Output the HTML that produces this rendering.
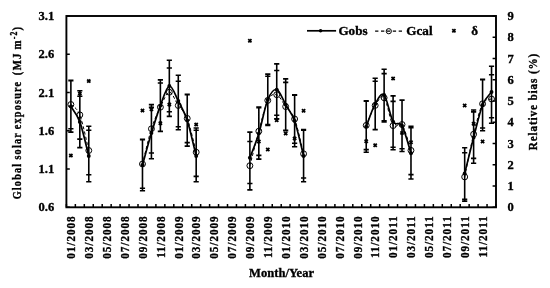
<!DOCTYPE html><html><head><meta charset="utf-8"><title>Chart</title><style>html,body{margin:0;padding:0;background:#fff;}svg{display:block;}text{font-family:'Liberation Serif','Times New Roman',serif;font-weight:bold;fill:#000;stroke:#000;stroke-width:0.35px;}</style></head><body>
<svg width="550" height="288" viewBox="0 0 550 288">
<rect width="550" height="288" fill="#fff"/>
<rect x="66.4" y="16.0" width="429.60" height="191.30" fill="none" stroke="#000" stroke-width="1.9"/>
<path d="M66.40 207.30H69.80M66.40 169.04H69.80M66.40 130.78H69.80M66.40 92.52H69.80M66.40 54.26H69.80M66.40 16.00H69.80M496.00 207.30H492.60M496.00 186.04H492.60M496.00 164.79H492.60M496.00 143.53H492.60M496.00 122.28H492.60M496.00 101.02H492.60M496.00 79.77H492.60M496.00 58.51H492.60M496.00 37.26H492.60M496.00 16.00H492.60M66.40 207.30V204.00M75.35 207.30V204.00M84.30 207.30V204.00M93.25 207.30V204.00M102.20 207.30V204.00M111.15 207.30V204.00M120.10 207.30V204.00M129.05 207.30V204.00M138.00 207.30V204.00M146.95 207.30V204.00M155.90 207.30V204.00M164.85 207.30V204.00M173.80 207.30V204.00M182.75 207.30V204.00M191.70 207.30V204.00M200.65 207.30V204.00M209.60 207.30V204.00M218.55 207.30V204.00M227.50 207.30V204.00M236.45 207.30V204.00M245.40 207.30V204.00M254.35 207.30V204.00M263.30 207.30V204.00M272.25 207.30V204.00M281.20 207.30V204.00M290.15 207.30V204.00M299.10 207.30V204.00M308.05 207.30V204.00M317.00 207.30V204.00M325.95 207.30V204.00M334.90 207.30V204.00M343.85 207.30V204.00M352.80 207.30V204.00M361.75 207.30V204.00M370.70 207.30V204.00M379.65 207.30V204.00M388.60 207.30V204.00M397.55 207.30V204.00M406.50 207.30V204.00M415.45 207.30V204.00M424.40 207.30V204.00M433.35 207.30V204.00M442.30 207.30V204.00M451.25 207.30V204.00M460.20 207.30V204.00M469.15 207.30V204.00M478.10 207.30V204.00M487.05 207.30V204.00M496.00 207.30V204.00" stroke="#000" stroke-width="1.5" fill="none"/>
<text transform="translate(54.20,211.30) scale(0.95,1)" font-size="13.2" text-anchor="end">0.6</text>
<text transform="translate(54.20,173.04) scale(0.95,1)" font-size="13.2" text-anchor="end">1.1</text>
<text transform="translate(54.20,134.78) scale(0.95,1)" font-size="13.2" text-anchor="end">1.6</text>
<text transform="translate(54.20,96.52) scale(0.95,1)" font-size="13.2" text-anchor="end">2.1</text>
<text transform="translate(54.20,58.26) scale(0.95,1)" font-size="13.2" text-anchor="end">2.6</text>
<text transform="translate(54.20,20.00) scale(0.95,1)" font-size="13.2" text-anchor="end">3.1</text>
<text transform="translate(507.60,211.30) scale(0.95,1)" font-size="13.2">0</text>
<text transform="translate(507.60,190.04) scale(0.95,1)" font-size="13.2">1</text>
<text transform="translate(507.60,168.79) scale(0.95,1)" font-size="13.2">2</text>
<text transform="translate(507.60,147.53) scale(0.95,1)" font-size="13.2">3</text>
<text transform="translate(507.60,126.28) scale(0.95,1)" font-size="13.2">4</text>
<text transform="translate(507.60,105.02) scale(0.95,1)" font-size="13.2">5</text>
<text transform="translate(507.60,83.77) scale(0.95,1)" font-size="13.2">6</text>
<text transform="translate(507.60,62.51) scale(0.95,1)" font-size="13.2">7</text>
<text transform="translate(507.60,41.26) scale(0.95,1)" font-size="13.2">8</text>
<text transform="translate(507.60,20.00) scale(0.95,1)" font-size="13.2">9</text>
<text transform="translate(75.17,215.50) rotate(-90) scale(0.86,1)" font-size="13.0" letter-spacing="1.1" text-anchor="end">01/2008</text>
<text transform="translate(93.08,215.50) rotate(-90) scale(0.86,1)" font-size="13.0" letter-spacing="1.1" text-anchor="end">03/2008</text>
<text transform="translate(110.98,215.50) rotate(-90) scale(0.86,1)" font-size="13.0" letter-spacing="1.1" text-anchor="end">05/2008</text>
<text transform="translate(128.88,215.50) rotate(-90) scale(0.86,1)" font-size="13.0" letter-spacing="1.1" text-anchor="end">07/2008</text>
<text transform="translate(146.78,215.50) rotate(-90) scale(0.86,1)" font-size="13.0" letter-spacing="1.1" text-anchor="end">09/2008</text>
<text transform="translate(164.68,215.50) rotate(-90) scale(0.86,1)" font-size="13.0" letter-spacing="1.1" text-anchor="end">11/2008</text>
<text transform="translate(182.58,215.50) rotate(-90) scale(0.86,1)" font-size="13.0" letter-spacing="1.1" text-anchor="end">01/2009</text>
<text transform="translate(200.48,215.50) rotate(-90) scale(0.86,1)" font-size="13.0" letter-spacing="1.1" text-anchor="end">03/2009</text>
<text transform="translate(218.38,215.50) rotate(-90) scale(0.86,1)" font-size="13.0" letter-spacing="1.1" text-anchor="end">05/2009</text>
<text transform="translate(236.28,215.50) rotate(-90) scale(0.86,1)" font-size="13.0" letter-spacing="1.1" text-anchor="end">07/2009</text>
<text transform="translate(254.18,215.50) rotate(-90) scale(0.86,1)" font-size="13.0" letter-spacing="1.1" text-anchor="end">09/2009</text>
<text transform="translate(272.08,215.50) rotate(-90) scale(0.86,1)" font-size="13.0" letter-spacing="1.1" text-anchor="end">11/2009</text>
<text transform="translate(289.98,215.50) rotate(-90) scale(0.86,1)" font-size="13.0" letter-spacing="1.1" text-anchor="end">01/2010</text>
<text transform="translate(307.88,215.50) rotate(-90) scale(0.86,1)" font-size="13.0" letter-spacing="1.1" text-anchor="end">03/2010</text>
<text transform="translate(325.78,215.50) rotate(-90) scale(0.86,1)" font-size="13.0" letter-spacing="1.1" text-anchor="end">05/2010</text>
<text transform="translate(343.68,215.50) rotate(-90) scale(0.86,1)" font-size="13.0" letter-spacing="1.1" text-anchor="end">07/2010</text>
<text transform="translate(361.58,215.50) rotate(-90) scale(0.86,1)" font-size="13.0" letter-spacing="1.1" text-anchor="end">09/2010</text>
<text transform="translate(379.48,215.50) rotate(-90) scale(0.86,1)" font-size="13.0" letter-spacing="1.1" text-anchor="end">11/2010</text>
<text transform="translate(397.38,215.50) rotate(-90) scale(0.86,1)" font-size="13.0" letter-spacing="1.1" text-anchor="end">01/2011</text>
<text transform="translate(415.28,215.50) rotate(-90) scale(0.86,1)" font-size="13.0" letter-spacing="1.1" text-anchor="end">03/2011</text>
<text transform="translate(433.18,215.50) rotate(-90) scale(0.86,1)" font-size="13.0" letter-spacing="1.1" text-anchor="end">05/2011</text>
<text transform="translate(451.08,215.50) rotate(-90) scale(0.86,1)" font-size="13.0" letter-spacing="1.1" text-anchor="end">07/2011</text>
<text transform="translate(468.98,215.50) rotate(-90) scale(0.86,1)" font-size="13.0" letter-spacing="1.1" text-anchor="end">09/2011</text>
<text transform="translate(486.88,215.50) rotate(-90) scale(0.86,1)" font-size="13.0" letter-spacing="1.1" text-anchor="end">11/2011</text>
<text transform="translate(21.0,199.3) rotate(-90) scale(0.76,1)" font-size="13.4" letter-spacing="1.6" word-spacing="-1.0">Global solar exposure</text>
<text transform="translate(21.0,75.2) rotate(-90) scale(0.8,1)" font-size="13.4" letter-spacing="1.6" word-spacing="-1.5">(MJ m<tspan font-size="9.65" dy="-4.4">-2</tspan><tspan dy="4.4">)</tspan></text>
<text transform="translate(537.20,150.20) rotate(-90) scale(0.84,1)" font-size="13.4" letter-spacing="1.0">Relative bias (%)</text>
<text transform="translate(249.00,276.80) scale(0.94,1)" font-size="13.4">Month/Year</text>
<path d="M70.88 80.70V132.10M68.28 80.70H73.47M68.28 132.10H73.47M70.88 80.30V128.70M68.28 80.30H73.47M68.28 128.70H73.47M79.83 96.20V147.60M77.23 96.20H82.42M77.23 147.60H82.42M79.83 90.70V139.10M77.23 90.70H82.42M77.23 139.10H82.42M88.78 130.30V181.70M86.18 130.30H91.38M86.18 181.70H91.38M88.78 126.30V174.70M86.18 126.30H91.38M86.18 174.70H91.38M142.48 139.30V190.70M139.88 139.30H145.08M139.88 190.70H145.08M142.48 139.80V188.20M139.88 139.80H145.08M139.88 188.20H145.08M151.43 107.40V158.80M148.83 107.40H154.03M148.83 158.80H154.03M151.43 104.60V153.00M148.83 104.60H154.03M148.83 153.00H154.03M160.38 79.90V131.30M157.78 79.90H162.97M157.78 131.30H162.97M160.38 83.00V131.40M157.78 83.00H162.97M157.78 131.40H162.97M169.33 60.30V111.70M166.73 60.30H171.93M166.73 111.70H171.93M169.33 68.00V116.40M166.73 68.00H171.93M166.73 116.40H171.93M178.28 75.30V126.70M175.68 75.30H180.88M175.68 126.70H180.88M178.28 81.30V129.70M175.68 81.30H180.88M175.68 129.70H180.88M187.23 94.70V146.10M184.63 94.70H189.83M184.63 146.10H189.83M187.23 94.20V142.60M184.63 94.20H189.83M184.63 142.60H189.83M196.18 130.30V181.70M193.58 130.30H198.78M193.58 181.70H198.78M196.18 128.00V176.40M193.58 128.00H198.78M193.58 176.40H198.78M249.88 132.10V183.50M247.28 132.10H252.48M247.28 183.50H252.48M249.88 141.50V189.90M247.28 141.50H252.48M247.28 189.90H252.48M258.83 107.70V159.10M256.23 107.70H261.43M256.23 159.10H261.43M258.83 107.00V155.40M256.23 107.00H261.43M256.23 155.40H261.43M267.78 74.10V125.50M265.18 74.10H270.38M265.18 125.50H270.38M267.78 76.20V124.60M265.18 76.20H270.38M265.18 124.60H270.38M276.73 63.90V115.30M274.12 63.90H279.33M274.12 115.30H279.33M276.73 70.50V118.90M274.12 70.50H279.33M274.12 118.90H279.33M285.68 78.90V130.30M283.08 78.90H288.28M283.08 130.30H288.28M285.68 82.40V130.80M283.08 82.40H288.28M283.08 130.80H288.28M294.62 95.30V146.70M292.02 95.30H297.23M292.02 146.70H297.23M294.62 94.80V143.20M292.02 94.80H297.23M292.02 143.20H297.23M303.58 130.30V181.70M300.98 130.30H306.18M300.98 181.70H306.18M303.58 129.60V178.00M300.98 129.60H306.18M300.98 178.00H306.18M366.23 100.90V152.30M363.62 100.90H368.83M363.62 152.30H368.83M366.23 101.20V149.60M363.62 101.20H368.83M363.62 149.60H368.83M375.18 78.20V129.60M372.58 78.20H377.78M372.58 129.60H377.78M375.18 81.20V129.60M372.58 81.20H377.78M372.58 129.60H377.78M384.12 69.30V120.70M381.52 69.30H386.73M381.52 120.70H386.73M384.12 73.60V122.00M381.52 73.60H386.73M381.52 122.00H386.73M393.08 95.90V147.30M390.48 95.90H395.68M390.48 147.30H395.68M393.08 101.40V149.80M390.48 101.40H395.68M390.48 149.80H395.68M402.03 100.10V151.50M399.43 100.10H404.63M399.43 151.50H404.63M402.03 100.30V148.70M399.43 100.30H404.63M399.43 148.70H404.63M410.98 127.60V179.00M408.38 127.60H413.58M408.38 179.00H413.58M410.98 126.20V174.60M408.38 126.20H413.58M408.38 174.60H413.58M464.68 147.80V199.20M462.08 147.80H467.28M462.08 199.20H467.28M464.68 152.70V201.10M462.08 152.70H467.28M462.08 201.10H467.28M473.62 111.90V163.30M471.02 111.90H476.23M471.02 163.30H476.23M473.62 110.00V158.40M471.02 110.00H476.23M471.02 158.40H476.23M482.58 79.30V130.70M479.98 79.30H485.18M479.98 130.70H485.18M482.58 79.60V128.00M479.98 79.60H485.18M479.98 128.00H485.18M491.53 66.30V117.70M488.93 66.30H494.13M488.93 117.70H494.13M491.53 74.80V123.20M488.93 74.80H494.13M488.93 123.20H494.13" stroke="#000" stroke-width="1.6" fill="none"/>
<path d="M70.88 104.50C72.37 106.23 76.84 107.23 79.83 114.90C82.81 122.57 87.28 144.57 88.78 150.50" fill="none" stroke="#000" stroke-width="1" stroke-dasharray="3 2.2"/>
<path d="M70.88 106.40C72.37 108.98 76.84 113.63 79.83 121.90C82.81 130.17 87.28 150.32 88.78 156.00" fill="none" stroke="#000" stroke-width="1.7" stroke-linejoin="round"/>
<path d="M142.48 164.00C143.97 158.13 148.44 138.27 151.43 128.80C154.41 119.33 157.39 113.30 160.38 107.20C163.36 101.10 166.34 92.48 169.33 92.20C172.31 91.92 175.29 101.13 178.28 105.50C181.26 109.87 184.24 110.62 187.23 118.40C190.21 126.18 194.68 146.57 196.18 152.20" fill="none" stroke="#000" stroke-width="1" stroke-dasharray="3 2.2"/>
<path d="M142.48 165.00C143.97 159.68 148.44 143.00 151.43 133.10C154.41 123.20 157.39 113.45 160.38 105.60C163.36 97.75 166.34 86.77 169.33 86.00C172.31 85.23 175.29 95.27 178.28 101.00C181.26 106.73 184.24 111.23 187.23 120.40C190.21 129.57 194.68 150.07 196.18 156.00" fill="none" stroke="#000" stroke-width="1.7" stroke-linejoin="round"/>
<path d="M249.88 165.70C251.37 159.95 255.84 142.08 258.83 131.20C261.81 120.32 264.79 106.48 267.78 100.40C270.76 94.32 273.74 93.67 276.73 94.70C279.71 95.73 282.69 102.55 285.68 106.60C288.66 110.65 291.64 111.13 294.62 119.00C297.61 126.87 302.08 148.00 303.58 153.80" fill="none" stroke="#000" stroke-width="1" stroke-dasharray="3 2.2"/>
<path d="M249.88 157.80C251.37 153.73 255.84 143.07 258.83 133.40C261.81 123.73 264.79 107.10 267.78 99.80C270.76 92.50 273.74 88.80 276.73 89.60C279.71 90.40 282.69 99.37 285.68 104.60C288.66 109.83 291.64 112.43 294.62 121.00C297.61 129.57 302.08 150.17 303.58 156.00" fill="none" stroke="#000" stroke-width="1.7" stroke-linejoin="round"/>
<path d="M366.23 125.40C367.72 122.07 372.19 110.00 375.18 105.40C378.16 100.80 381.14 94.43 384.12 97.80C387.11 101.17 390.09 121.15 393.08 125.60C396.06 130.05 399.04 120.37 402.03 124.50C405.01 128.63 409.48 146.08 410.98 150.40" fill="none" stroke="#000" stroke-width="1" stroke-dasharray="3 2.2"/>
<path d="M366.23 126.60C367.72 122.82 372.19 109.17 375.18 103.90C378.16 98.63 381.14 92.05 384.12 95.00C387.11 97.95 390.09 116.47 393.08 121.60C396.06 126.73 399.04 120.52 402.03 125.80C405.01 131.08 409.48 148.72 410.98 153.30" fill="none" stroke="#000" stroke-width="1.7" stroke-linejoin="round"/>
<path d="M464.68 176.90C466.17 169.78 470.64 146.38 473.62 134.20C476.61 122.02 479.59 109.67 482.58 103.80C485.56 97.93 490.03 99.80 491.53 99.00" fill="none" stroke="#000" stroke-width="1" stroke-dasharray="3 2.2"/>
<path d="M464.68 173.50C466.17 167.52 470.64 149.02 473.62 137.60C476.61 126.18 479.59 112.60 482.58 105.00C485.56 97.40 490.03 94.17 491.53 92.00" fill="none" stroke="#000" stroke-width="1.7" stroke-linejoin="round"/>
<circle cx="70.88" cy="106.40" r="1.95" fill="#000"/>
<circle cx="70.88" cy="104.50" r="2.95" fill="none" stroke="#000" stroke-width="1"/>
<circle cx="79.83" cy="121.90" r="1.95" fill="#000"/>
<circle cx="79.83" cy="114.90" r="2.95" fill="none" stroke="#000" stroke-width="1"/>
<circle cx="88.78" cy="156.00" r="1.95" fill="#000"/>
<circle cx="88.78" cy="150.50" r="2.95" fill="none" stroke="#000" stroke-width="1"/>
<circle cx="142.48" cy="165.00" r="1.95" fill="#000"/>
<circle cx="142.48" cy="164.00" r="2.95" fill="none" stroke="#000" stroke-width="1"/>
<circle cx="151.43" cy="133.10" r="1.95" fill="#000"/>
<circle cx="151.43" cy="128.80" r="2.95" fill="none" stroke="#000" stroke-width="1"/>
<circle cx="160.38" cy="105.60" r="1.95" fill="#000"/>
<circle cx="160.38" cy="107.20" r="2.95" fill="none" stroke="#000" stroke-width="1"/>
<circle cx="169.33" cy="86.00" r="1.95" fill="#000"/>
<circle cx="169.33" cy="92.20" r="2.95" fill="none" stroke="#000" stroke-width="1"/>
<circle cx="178.28" cy="101.00" r="1.95" fill="#000"/>
<circle cx="178.28" cy="105.50" r="2.95" fill="none" stroke="#000" stroke-width="1"/>
<circle cx="187.23" cy="120.40" r="1.95" fill="#000"/>
<circle cx="187.23" cy="118.40" r="2.95" fill="none" stroke="#000" stroke-width="1"/>
<circle cx="196.18" cy="156.00" r="1.95" fill="#000"/>
<circle cx="196.18" cy="152.20" r="2.95" fill="none" stroke="#000" stroke-width="1"/>
<circle cx="249.88" cy="157.80" r="1.95" fill="#000"/>
<circle cx="249.88" cy="165.70" r="2.95" fill="none" stroke="#000" stroke-width="1"/>
<circle cx="258.83" cy="133.40" r="1.95" fill="#000"/>
<circle cx="258.83" cy="131.20" r="2.95" fill="none" stroke="#000" stroke-width="1"/>
<circle cx="267.78" cy="99.80" r="1.95" fill="#000"/>
<circle cx="267.78" cy="100.40" r="2.95" fill="none" stroke="#000" stroke-width="1"/>
<circle cx="276.73" cy="89.60" r="1.95" fill="#000"/>
<circle cx="276.73" cy="94.70" r="2.95" fill="none" stroke="#000" stroke-width="1"/>
<circle cx="285.68" cy="104.60" r="1.95" fill="#000"/>
<circle cx="285.68" cy="106.60" r="2.95" fill="none" stroke="#000" stroke-width="1"/>
<circle cx="294.62" cy="121.00" r="1.95" fill="#000"/>
<circle cx="294.62" cy="119.00" r="2.95" fill="none" stroke="#000" stroke-width="1"/>
<circle cx="303.58" cy="156.00" r="1.95" fill="#000"/>
<circle cx="303.58" cy="153.80" r="2.95" fill="none" stroke="#000" stroke-width="1"/>
<circle cx="366.23" cy="126.60" r="1.95" fill="#000"/>
<circle cx="366.23" cy="125.40" r="2.95" fill="none" stroke="#000" stroke-width="1"/>
<circle cx="375.18" cy="103.90" r="1.95" fill="#000"/>
<circle cx="375.18" cy="105.40" r="2.95" fill="none" stroke="#000" stroke-width="1"/>
<circle cx="384.12" cy="95.00" r="1.95" fill="#000"/>
<circle cx="384.12" cy="97.80" r="2.95" fill="none" stroke="#000" stroke-width="1"/>
<circle cx="393.08" cy="121.60" r="1.95" fill="#000"/>
<circle cx="393.08" cy="125.60" r="2.95" fill="none" stroke="#000" stroke-width="1"/>
<circle cx="402.03" cy="125.80" r="1.95" fill="#000"/>
<circle cx="402.03" cy="124.50" r="2.95" fill="none" stroke="#000" stroke-width="1"/>
<circle cx="410.98" cy="153.30" r="1.95" fill="#000"/>
<circle cx="410.98" cy="150.40" r="2.95" fill="none" stroke="#000" stroke-width="1"/>
<circle cx="464.68" cy="173.50" r="1.95" fill="#000"/>
<circle cx="464.68" cy="176.90" r="2.95" fill="none" stroke="#000" stroke-width="1"/>
<circle cx="473.62" cy="137.60" r="1.95" fill="#000"/>
<circle cx="473.62" cy="134.20" r="2.95" fill="none" stroke="#000" stroke-width="1"/>
<circle cx="482.58" cy="105.00" r="1.95" fill="#000"/>
<circle cx="482.58" cy="103.80" r="2.95" fill="none" stroke="#000" stroke-width="1"/>
<circle cx="491.53" cy="92.00" r="1.95" fill="#000"/>
<circle cx="491.53" cy="99.00" r="2.95" fill="none" stroke="#000" stroke-width="1"/>
<path d="M69.28 154.00L72.47 157.20M72.47 154.00L69.28 157.20M78.23 92.00L81.42 95.20M81.42 92.00L78.23 95.20M87.18 79.50L90.38 82.70M90.38 79.50L87.18 82.70M140.88 109.00L144.08 112.20M144.08 109.00L140.88 112.20M149.83 107.70L153.03 110.90M153.03 107.70L149.83 110.90M158.78 121.70L161.97 124.90M161.97 121.70L158.78 124.90M167.73 103.00L170.93 106.20M170.93 103.00L167.73 106.20M194.58 123.00L197.78 126.20M197.78 123.00L194.58 126.20M248.28 39.20L251.48 42.40M251.48 39.20L248.28 42.40M257.23 139.90L260.43 143.10M260.43 139.90L257.23 143.10M266.18 147.90L269.38 151.10M269.38 147.90L266.18 151.10M275.12 118.60L278.33 121.80M278.33 118.60L275.12 121.80M284.08 131.90L287.28 135.10M287.28 131.90L284.08 135.10M293.02 136.80L296.23 140.00M296.23 136.80L293.02 140.00M301.98 109.10L305.18 112.30M305.18 109.10L301.98 112.30M364.62 139.70L367.83 142.90M367.83 139.70L364.62 142.90M373.58 143.70L376.78 146.90M376.78 143.70L373.58 146.90M391.48 76.90L394.68 80.10M394.68 76.90L391.48 80.10M400.43 131.30L403.63 134.50M403.63 131.30L400.43 134.50M409.38 140.60L412.58 143.80M412.58 140.60L409.38 143.80M463.08 103.90L466.28 107.10M466.28 103.90L463.08 107.10M472.02 122.20L475.23 125.40M475.23 122.20L472.02 125.40M480.98 139.90L484.18 143.10M484.18 139.90L480.98 143.10" stroke="#000" stroke-width="1.8" fill="none"/>
<path d="M307.0 30.8H336.1" stroke="#000" stroke-width="1.7"/>
<circle cx="320.6" cy="30.8" r="1.8" fill="#000"/>
<text transform="translate(338.40,35.00) scale(0.98,1)" font-size="13.4">Gobs</text>
<path d="M375.1 31.2H402.0" stroke="#000" stroke-width="1.2" stroke-dasharray="3.3 2.6"/>
<circle cx="388.8" cy="31.2" r="2.6" fill="none" stroke="#000" stroke-width="1"/>
<text transform="translate(406.30,35.00) scale(0.98,1)" font-size="13.4">Gcal</text>
<path d="M452.30 29.20L455.50 32.40M455.50 29.20L452.30 32.40" stroke="#000" stroke-width="1.8"/>
<text transform="translate(471.20,35.00) scale(0.98,1)" font-size="13.4">δ</text>
</svg></body></html>
